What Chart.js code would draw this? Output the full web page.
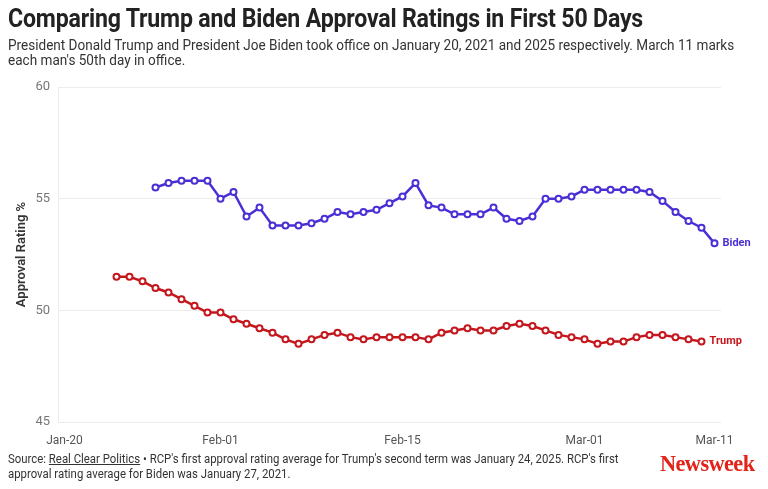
<!DOCTYPE html>
<html>
<head>
<meta charset="utf-8">
<script src="https://cdn.jsdelivr.net/npm/chart.js@4.4.1/dist/chart.umd.min.js"></script>
<style>
  html, body { margin: 0; padding: 0; background: #fff; }
  body { width: 768px; height: 489px; position: relative; overflow: hidden; font-family: Roboto, "Noto Sans", sans-serif; }
  #chartBox { position: absolute; left: 0; top: 0; width: 768px; height: 489px; }
  .title { position: absolute; left: 8px; top: 4px; font-size: 25px; font-weight: 700; color: #222; white-space: nowrap; transform: scaleX(0.925); transform-origin: left top; letter-spacing: -0.2px; }
  .sub { position: absolute; left: 8px; top: 38px; font-size: 14.5px; line-height: 15px; color: #333; white-space: nowrap; transform: scaleX(0.935); transform-origin: left top; }
  .foot { position: absolute; left: 8px; top: 452px; font-size: 12.5px; line-height: 14.5px; color: #333; white-space: nowrap; transform: scaleX(0.91); transform-origin: left top; }
  .foot u { text-decoration: underline; }
  .logo { position: absolute; left: 660px; top: 451px; font-family: "Liberation Serif", "DejaVu Serif", serif; font-weight: 700; font-size: 23px; color: #e2231a; transform: scaleX(0.97); transform-origin: left top; letter-spacing: -0.6px; }
</style>
</head>
<body>
<div id="chartBox"><canvas id="approvalChart"></canvas></div>
<div class="title">Comparing Trump and Biden Approval Ratings in First 50 Days</div>
<div class="sub">President Donald Trump and President Joe Biden took office on January 20, 2021 and 2025 respectively. March 11 marks<br>each man's 50th day in office.</div>
<div class="foot">Source: <u>Real Clear Politics</u> &bull; RCP's first approval rating average for Trump's second term was January 24, 2025. RCP's first<br>approval rating average for Biden was January 27, 2021.</div>
<div class="logo">Newsweek</div>
<script>
// days counted from inauguration day (Jan 20)
const tickDays = [0, 12, 26, 40, 50];
const tickLabels = ['Jan-20', 'Feb-01', 'Feb-15', 'Mar-01', 'Mar-11'];
const yTicks = [45, 50, 55, 60];

const trumpStartDay = 4;  // Jan 24
const trumpRatings = [51.5, 51.5, 51.3, 51.0, 50.8, 50.5, 50.2, 49.9, 49.9, 49.6,
  49.4, 49.2, 49.0, 48.7, 48.5, 48.7, 48.9, 49.0, 48.8, 48.7,
  48.8, 48.8, 48.8, 48.8, 48.7, 49.0, 49.1, 49.2, 49.1, 49.1,
  49.3, 49.4, 49.3, 49.1, 48.9, 48.8, 48.7, 48.5, 48.6, 48.6,
  48.8, 48.9, 48.9, 48.8, 48.7, 48.6];

const bidenStartDay = 7;  // Jan 27
const bidenRatings = [55.5, 55.7, 55.8, 55.8, 55.8, 55.0, 55.3, 54.2, 54.6, 53.8,
  53.8, 53.8, 53.9, 54.1, 54.4, 54.3, 54.4, 54.5, 54.8, 55.1,
  55.7, 54.7, 54.6, 54.3, 54.3, 54.3, 54.6, 54.1, 54.0, 54.2,
  55.0, 55.0, 55.1, 55.4, 55.4, 55.4, 55.4, 55.4, 55.3, 54.9,
  54.4, 54.0, 53.7, 53.0];

const bidenColor = '#4a2fd6';
const trumpColor = '#c4161c';

function toPoints(start, values) {
  return values.map((v, i) => ({ x: start + i, y: v }));
}

// name label next to the last point of each line
const endLabels = {
  id: 'endLabels',
  afterDatasetsDraw(chart) {
    const c = chart.ctx;
    chart.data.datasets.forEach((ds, i) => {
      const meta = chart.getDatasetMeta(i);
      const last = meta.data[meta.data.length - 1];
      c.save();
      c.font = 'bold 11px Roboto, sans-serif';
      c.fillStyle = ds.borderColor;
      c.textBaseline = 'middle';
      c.fillText(ds.label, last.x + 8, last.y);
      c.restore();
    });
  }
};

const ctx = document.getElementById('approvalChart').getContext('2d');
const approvalChart = new Chart(ctx, {
  type: 'line',
  data: {
    datasets: [
      {
        label: 'Biden',
        data: toPoints(bidenStartDay, bidenRatings),
        borderColor: bidenColor,
        backgroundColor: '#fff',
        borderWidth: 2.5,
        pointRadius: 3,
        pointBorderWidth: 2,
        pointBackgroundColor: '#fff',
        pointBorderColor: bidenColor,
        tension: 0
      },
      {
        label: 'Trump',
        data: toPoints(trumpStartDay, trumpRatings),
        borderColor: trumpColor,
        backgroundColor: '#fff',
        borderWidth: 2.5,
        pointRadius: 3,
        pointBorderWidth: 2,
        pointBackgroundColor: '#fff',
        pointBorderColor: trumpColor,
        tension: 0
      }
    ]
  },
  options: {
    responsive: true,
    maintainAspectRatio: false,
    animation: false,
    layout: { padding: { top: 87, left: 0, right: 47, bottom: 43 } },
    plugins: {
      legend: { display: false },
      tooltip: { enabled: false }
    },
    scales: {
      x: {
        type: 'linear',
        min: -0.5,
        max: 50.5,
        afterBuildTicks: (scale) => { scale.ticks = tickDays.map(v => ({ value: v })); },
        afterFit: (scale) => { scale.height = 24; },
        ticks: {
          autoSkip: false,
          maxRotation: 0,
          padding: 4,
          color: '#555',
          font: { family: 'Roboto', size: 12 },
          callback: (v) => tickLabels[tickDays.indexOf(v)]
        },
        grid: { display: false },
        border: { display: false }
      },
      y: {
        min: 45,
        max: 60,
        afterBuildTicks: (scale) => { scale.ticks = yTicks.map(v => ({ value: v })); },
        afterFit: (scale) => { scale.width = 58; },
        ticks: {
          padding: 8,
          color: '#777',
          font: { family: 'Roboto', size: 13 }
        },
        title: {
          display: true,
          text: 'Approval Rating %',
          color: '#333',
          font: { family: 'Roboto', size: 13, weight: '600' },
          padding: { top: 14, bottom: 0 }
        },
        grid: { color: '#ececec', drawTicks: false },
        border: { display: true, color: '#ececec' }
      }
    }
  },
  plugins: [endLabels]
});
</script>
</body>
</html>
